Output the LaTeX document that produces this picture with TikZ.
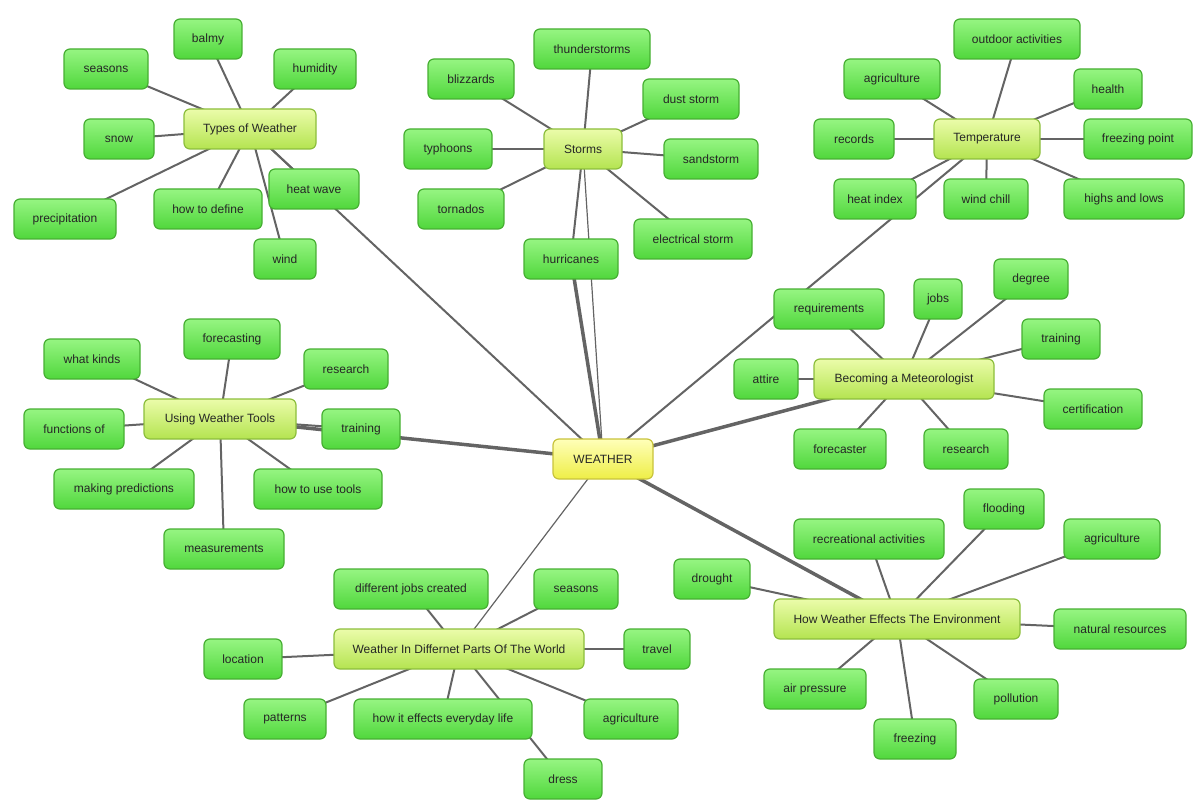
\documentclass[tikz,border=0pt]{standalone}
\usepackage{fontspec}
\setmainfont{Liberation Sans}
\usetikzlibrary{backgrounds}
\definecolor{lt}{RGB}{150,245,130}
\definecolor{lb}{RGB}{80,215,60}
\definecolor{ld}{RGB}{70,175,50}
\definecolor{ht}{RGB}{235,252,170}
\definecolor{hb}{RGB}{180,228,80}
\definecolor{hd}{RGB}{140,190,60}
\definecolor{ct}{RGB}{255,255,185}
\definecolor{cb}{RGB}{238,238,70}
\definecolor{cd}{RGB}{200,195,60}
\definecolor{ln}{RGB}{100,100,100}
\tikzset{
 box/.style={rounded corners=6,minimum height=40,inner sep=2,font=\fontsize{12}{14}\selectfont,text=black!85,line width=1.2},
 leaf/.style={box,top color=lt,bottom color=lb,draw=ld},
 hub/.style={box,top color=ht,bottom color=hb,draw=hd},
 ctr/.style={box,top color=ct,bottom color=cb,draw=cd},
 main/.style={ln,line width=3.5},
 sub/.style={ln,line width=2},
}
\begin{document}
\begin{tikzpicture}[x=1pt,y=-1pt]
\useasboundingbox (0,0) rectangle (1204,810);
\node[ctr,minimum width=100] (c) at (603,459) {WEATHER};
% Types of weather
\node[hub,minimum width=132] (h1) at (250,129) {Types of Weather};
\node[leaf,minimum width=84] (a1) at (106,69) {seasons};
\node[leaf,minimum width=68] (a2) at (208,39) {balmy};
\node[leaf,minimum width=82] (a3) at (315,69) {humidity};
\node[leaf,minimum width=70] (a4) at (119,139) {snow};
\node[leaf,minimum width=102] (a5) at (65,219) {precipitation};
\node[leaf,minimum width=108] (a6) at (208,209) {how to define};
\node[leaf,minimum width=90] (a7) at (314,189) {heat wave};
\node[leaf,minimum width=62] (a8) at (285,259) {wind};
% Storms
\node[hub,minimum width=78] (h2) at (583,149) {Storms};
\node[leaf,minimum width=116] (b1) at (592,49) {thunderstorms};
\node[leaf,minimum width=86] (b2) at (471,79) {blizzards};
\node[leaf,minimum width=96] (b3) at (691,99) {dust storm};
\node[leaf,minimum width=88] (b4) at (448,149) {typhoons};
\node[leaf,minimum width=94] (b5) at (711,159) {sandstorm};
\node[leaf,minimum width=86] (b6) at (461,209) {tornados};
\node[leaf,minimum width=118] (b7) at (693,239) {electrical storm};
\node[leaf,minimum width=94] (b8) at (571,259) {hurricanes};
% Temperature
\node[hub,minimum width=106] (h3) at (987,139) {Temperature};
\node[leaf,minimum width=126] (t1) at (1017,39) {outdoor activities};
\node[leaf,minimum width=96] (t2) at (892,79) {agriculture};
\node[leaf,minimum width=68] (t3) at (1108,89) {health};
\node[leaf,minimum width=80] (t4) at (854,139) {records};
\node[leaf,minimum width=108] (t5) at (1138,139) {freezing point};
\node[leaf,minimum width=82] (t6) at (875,199) {heat index};
\node[leaf,minimum width=84] (t7) at (986,199) {wind chill};
\node[leaf,minimum width=120] (t8) at (1124,199) {highs and lows};
% Meteorologist
\node[hub,minimum width=180] (h4) at (904,379) {Becoming a Meteorologist};
\node[leaf,minimum width=110] (m1) at (829,309) {requirements};
\node[leaf,minimum width=48] (m2) at (938,299) {jobs};
\node[leaf,minimum width=74] (m3) at (1031,279) {degree};
\node[leaf,minimum width=78] (m4) at (1061,339) {training};
\node[leaf,minimum width=64] (m5) at (766,379) {attire};
\node[leaf,minimum width=98] (m6) at (1093,409) {certification};
\node[leaf,minimum width=92] (m7) at (840,449) {forecaster};
\node[leaf,minimum width=84] (m8) at (966,449) {research};
% Tools
\node[hub,minimum width=152] (h5) at (220,419) {Using Weather Tools};
\node[leaf,minimum width=96] (u1) at (92,359) {what kinds};
\node[leaf,minimum width=96] (u2) at (232,339) {forecasting};
\node[leaf,minimum width=84] (u3) at (346,369) {research};
\node[leaf,minimum width=100] (u4) at (74,429) {functions of};
\node[leaf,minimum width=78] (u5) at (361,429) {training};
\node[leaf,minimum width=140] (u6) at (124,489) {making predictions};
\node[leaf,minimum width=128] (u7) at (318,489) {how to use tools};
\node[leaf,minimum width=120] (u8) at (224,549) {measurements};
% World
\node[hub,minimum width=250] (h6) at (459,649) {Weather In Differnet Parts Of The World};
\node[leaf,minimum width=154] (w1) at (411,589) {different jobs created};
\node[leaf,minimum width=84] (w2) at (576,589) {seasons};
\node[leaf,minimum width=78] (w3) at (243,659) {location};
\node[leaf,minimum width=66] (w4) at (657,649) {travel};
\node[leaf,minimum width=82] (w5) at (285,719) {patterns};
\node[leaf,minimum width=178] (w6) at (443,719) {how it effects everyday life};
\node[leaf,minimum width=94] (w7) at (631,719) {agriculture};
\node[leaf,minimum width=78] (w8) at (563,779) {dress};
% Environment
\node[hub,minimum width=246] (h7) at (897,619) {How Weather Effects The Environment};
\node[leaf,minimum width=150] (e1) at (869,539) {recreational activities};
\node[leaf,minimum width=80] (e2) at (1004,509) {flooding};
\node[leaf,minimum width=96] (e3) at (1112,539) {agriculture};
\node[leaf,minimum width=76] (e4) at (712,579) {drought};
\node[leaf,minimum width=132] (e5) at (1120,629) {natural resources};
\node[leaf,minimum width=102] (e6) at (815,689) {air pressure};
\node[leaf,minimum width=84] (e7) at (1016,699) {pollution};
\node[leaf,minimum width=82] (e8) at (915,739) {freezing};
\begin{scope}[on background layer]
\draw[sub] (c.center) -- (h1.center);
\draw[main] (c.center) -- (b8.center);
\draw[sub,line width=1.2] (c.center) -- (h2.center);
\draw[sub] (c.center) -- (h3.center);
\draw[main] (c.center) -- (h4.center);
\draw[main] (c.center) -- (h5.center);
\draw[sub,line width=1.2] (c.center) -- (h6.center);
\draw[main] (c.center) -- (h7.center);
\foreach \h/\p in {h1/a,h2/b,h3/t,h4/m,h5/u,h6/w,h7/e}
  \foreach \i in {1,...,8}
    \draw[sub] (\h.center) -- (\p\i.center);
\end{scope}
\end{tikzpicture}
\end{document}
